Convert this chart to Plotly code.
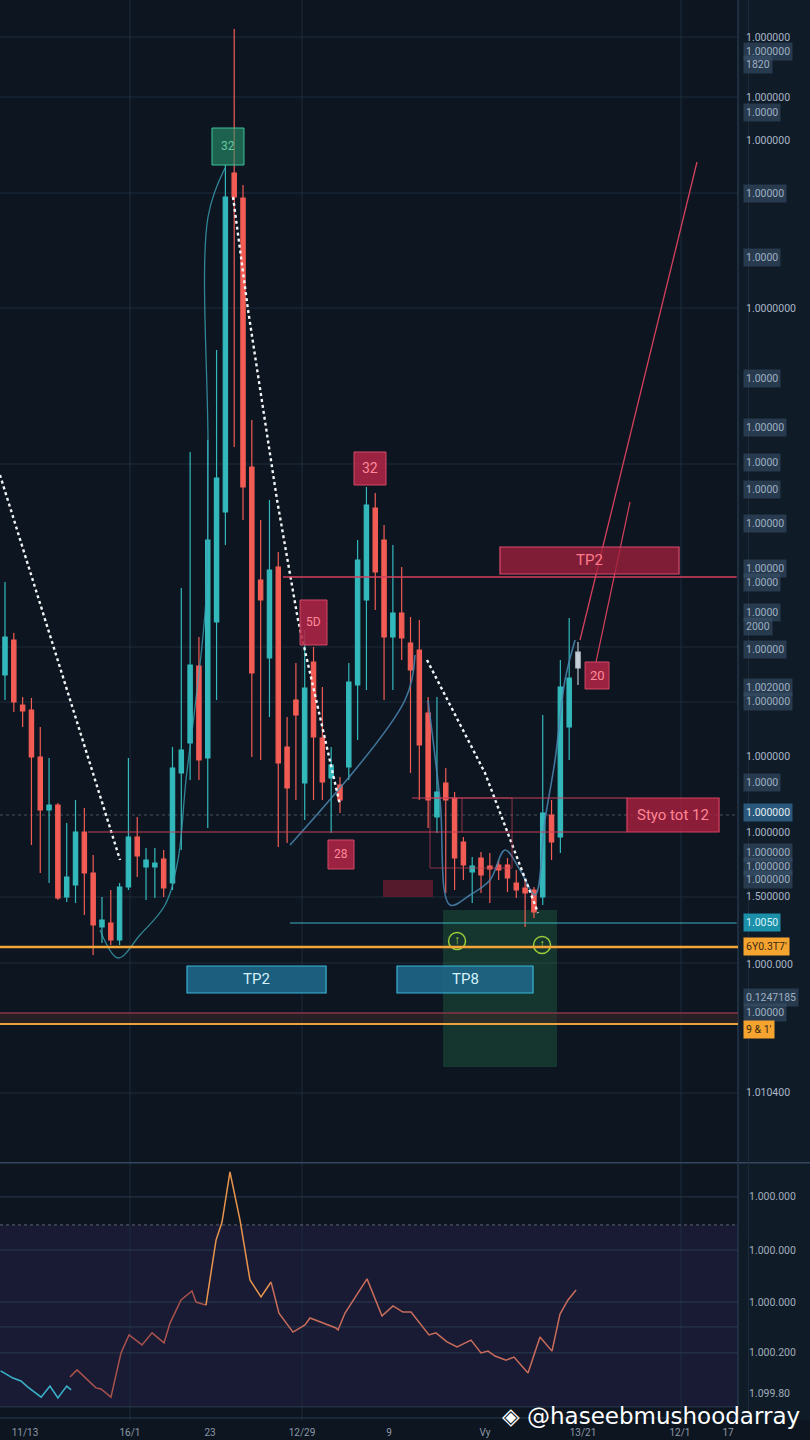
import plotly.graph_objects as go

# ---------------- candle data (x = bar index) ----------------
bar_index = list(range(65))
opens = [1.0272, 1.0307, 1.0242, 1.0237, 1.0190, 1.0137, 1.0142, 1.0050, 1.0062, 1.0115,
         1.0074, 1.0020, 1.0024, 1.0007, 1.0060, 1.0110, 1.0080, 1.0080, 1.0088, 1.0064,
         1.0174, 1.0204, 1.0281, 1.0189, 1.0325, 1.0435, 1.0774, 1.0749, 1.0480, 1.0367,
         1.0289, 1.0380, 1.0200, 1.0247, 1.0164, 1.0285, 1.0209, 1.0169, 1.0162, 1.0180,
         1.0262, 1.0347, 1.0439, 1.0407, 1.0310, 1.0334, 1.0304, 1.0297, 1.0234, 1.0130,
         1.0164, 1.0149, 1.0105, 1.0075, 1.0089, 1.0081, 1.0082, 1.0082, 1.0064, 1.0059,
         1.0057, 1.0050, 1.0132, 1.0110, 1.0220]
highs = [1.0365, 1.0314, 1.0250, 1.0249, 1.0220, 1.0189, 1.0144, 1.0124, 1.0147, 1.0139,
         1.0092, 1.0050, 1.0057, 1.0064, 1.0189, 1.0130, 1.0099, 1.0099, 1.0097, 1.0200,
         1.0359, 1.0495, 1.0310, 1.0507, 1.0597, 1.0782, 1.0918, 1.0762, 1.0527, 1.0427,
         1.0447, 1.0395, 1.0230, 1.0284, 1.0317, 1.0300, 1.0260, 1.0200, 1.0170, 1.0284,
         1.0407, 1.0460, 1.0454, 1.0422, 1.0402, 1.0380, 1.0330, 1.0327, 1.0250, 1.0250,
         1.0179, 1.0155, 1.0110, 1.0090, 1.0095, 1.0094, 1.0087, 1.0089, 1.0077, 1.0067,
         1.0060, 1.0232, 1.0147, 1.0287, 1.0329]
lows = [1.0247, 1.0235, 1.0220, 1.0102, 1.0074, 1.0064, 1.0047, 1.0045, 1.0044, 1.0032,
        0.9992, 1.0004, 1.0002, 1.0002, 1.0057, 1.0070, 1.0047, 1.0049, 1.0050, 1.0057,
        1.0097, 1.0167, 1.0167, 1.0119, 1.0247, 1.0402, 1.0500, 1.0427, 1.0190, 1.0187,
        1.0230, 1.0100, 1.0104, 1.0147, 1.0127, 1.0147, 1.0147, 1.0114, 1.0134, 1.0167,
        1.0207, 1.0257, 1.0337, 1.0247, 1.0257, 1.0287, 1.0174, 1.0147, 1.0119, 1.0114,
        1.0054, 1.0057, 1.0067, 1.0044, 1.0054, 1.0044, 1.0067, 1.0055, 1.0049, 1.0020,
        1.0029, 1.0042, 1.0087, 1.0094, 1.0187]
closes = [1.0310, 1.0245, 1.0236, 1.0190, 1.0137, 1.0142, 1.0049, 1.0070, 1.0115, 1.0074,
          1.0022, 1.0027, 1.0007, 1.0060, 1.0110, 1.0091, 1.0087, 1.0084, 1.0059, 1.0179,
          1.0197, 1.0282, 1.0187, 1.0407, 1.0469, 1.0750, 1.0750, 1.0460, 1.0274, 1.0347,
          1.0377, 1.0184, 1.0159, 1.0232, 1.0259, 1.0210, 1.0165, 1.0182, 1.0147, 1.0265,
          1.0387, 1.0442, 1.0375, 1.0310, 1.0334, 1.0309, 1.0277, 1.0202, 1.0147, 1.0155,
          1.0147, 1.0089, 1.0082, 1.0081, 1.0072, 1.0078, 1.0077, 1.0069, 1.0057, 1.0054,
          1.0035, 1.0134, 1.0105, 1.0260, 1.0269]

# last (neutral / grey) candle
last_index = [65]
last_open = [1.0279]
last_high = [1.0305]
last_low = [1.0262]
last_close = [1.0295]

# ---------------- trend / average lines ----------------
trend1_x = [-0.57, 13.05]
trend1_y = [1.0472, 1.0087]
trend2_x = [25.87, 27.57, 30.86, 33.24, 38.00]
trend2_y = [1.0750, 1.0637, 1.0447, 1.0327, 1.0142]
trend3_x = [47.87, 54.45, 60.47]
trend3_y = [1.0287, 1.0174, 1.0034]

avg1_x = [10.78, 12.82, 15.31, 18.15, 19.62, 20.53, 21.65, 22.79, 23.03, 23.03, 24.96]
avg1_y = [1.0017, 0.9989, 1.0012, 1.0042, 1.0087, 1.0167, 1.0247, 1.0347, 1.0497, 1.0730, 1.0779]
avg2_x = [32.33, 45.38, 46.51]
avg2_y = [1.0102, 1.0247, 1.0292]
avg3_x = [47.99, 49.35, 50.49, 52.76, 55.02, 56.72, 58.43, 60.13, 61.26, 62.40, 63.53, 64.67]
avg3_y = [1.0247, 1.0147, 1.0042, 1.0052, 1.0067, 1.0097, 1.0077, 1.0052, 1.0127, 1.0187, 1.0267, 1.0307]

signal_x = [51.28, 60.92]
signal_y = [1.0006, 1.0002]

# ---------------- oscillator (lower pane) ----------------
osc_teal_x = [-0.5, 0.9, 1.8, 2.6, 4.1, 5.1, 6.0, 7.0, 7.5]
osc_teal_y = [19.1, 16.3, 15.2, 12.8, 8.9, 13.2, 8.6, 13.2, 11.7]
osc_x = [7.37, 8.17, 10.32, 10.89, 12.02, 13.16, 14.07, 15.54, 16.68, 18.04,
         18.72, 19.97, 21.21, 21.67, 22.80, 23.94, 24.62, 25.52, 26.66, 27.79,
         29.04, 30.18, 31.08, 32.67, 34.03, 34.60, 37.55, 37.78, 38.57, 41.07,
         42.77, 44.02, 45.15, 46.06, 48.10, 48.89, 50.14, 51.28, 52.86, 54.00,
         54.79, 55.59, 56.83, 57.74, 59.33, 60.69, 62.05, 62.96, 63.87, 64.78]
osc_y = [16.7, 19.5, 12.5, 12.1, 8.9, 26.1, 33.1, 29.2, 33.9, 30.0,
         37.7, 46.7, 50.2, 45.9, 44.7, 70.0, 77.0, 96.5, 77.8, 54.5,
         47.9, 53.7, 41.6, 34.2, 37.0, 39.7, 35.8, 35.0, 41.6, 54.9,
         40.5, 44.4, 42.0, 42.0, 33.1, 33.9, 30.4, 28.4, 31.1, 26.1,
         26.8, 24.9, 23.3, 24.5, 18.3, 32.3, 26.8, 41.2, 46.7, 50.6]

# ---------------- axis labels ----------------
price_label_y = [1.0910, 1.0896, 1.0883, 1.0850, 1.0835, 1.0807, 1.0754, 1.0690, 1.0639, 1.0569,
                 1.0519, 1.0484, 1.0457, 1.0423, 1.0378, 1.0364, 1.0334, 1.0320, 1.0297, 1.0259,
                 1.0245, 1.0190, 1.0164, 1.0134, 1.0114, 1.0094, 1.0080, 1.0067, 1.0050, 1.0024,
                 1.0000, 0.9982, 0.9949, 0.9934, 0.9917, 0.9854]
price_label_text = ["1.000000", "1.000000", "1820", "1.000000", "1.0000", "1.000000", "1.00000", "1.0000",
                    "1.0000000", "1.0000", "1.00000", "1.0000", "1.0000", "1.00000", "1.00000", "1.0000",
                    "1.0000", "2000", "1.00000", "1.002000", "1.000000", "1.000000", "1.0000", "1.000000",
                    "1.000000", "1.000000", "1.000000", "1.000000", "1.500000", "1.0050", "6Y0.3T7'",
                    "1.000.000", "0.1247185", "1.00000", "9 & 1'", "1.010400"]
price_label_kind = ["plain", "box", "box", "plain", "box", "plain", "box", "box", "plain", "box",
                    "box", "box", "box", "box", "box", "box", "box", "box", "box", "box",
                    "box", "plain", "box", "blue", "plain", "box", "box", "box", "plain", "teal",
                    "orange", "plain", "box", "box", "orange", "plain"]

osc_label_y = [86.8, 66.1, 45.9, 26.1, 10.5]
osc_label_text = ["1.000.000", "1.000.000", "1.000.000", "1.000.200", "1.099.80"]

date_tick_x = [2.27, 14.18, 23.26, 33.69, 43.56, 54.45, 65.57, 76.57, 82.02]
date_tick_text = ["11/13", "16/1", "23", "12/29", "9", "Vy", "13/21", "12/1", "17"]

grid_prices = [1.0910, 1.0850, 1.0754, 1.0639, 1.0483, 1.0300, 1.0245, 1.0050, 0.9984, 0.9854]
grid_x = [14.18, 33.69, 76.69]
osc_grid = [86.8, 66.1, 45.9, 36.2, 26.1, 5.1, 0.8]

# ---------------- styling ----------------
BG = "#0c1520"
TEAL = "#33b9bb"
RED = "#f25c54"
GRID = "#1f2d3c"
XD = [0, 0.9111]
MAIN_DOM = [0.1817, 1.0]
OSC_DOM = [0.0, 0.1810]

fig = go.Figure()

fig.add_trace(go.Candlestick(
    x=bar_index, open=opens, high=highs, low=lows, close=closes,
    increasing=dict(line=dict(color=TEAL, width=1.2), fillcolor=TEAL),
    decreasing=dict(line=dict(color=RED, width=1.2), fillcolor=RED),
    whiskerwidth=0, showlegend=False, hoverinfo="skip"))
fig.add_trace(go.Candlestick(
    x=last_index, open=last_open, high=last_high, low=last_low, close=last_close,
    increasing=dict(line=dict(color="#b9c3cc", width=1.2), fillcolor="#c7d0d8"),
    decreasing=dict(line=dict(color="#b9c3cc", width=1.2), fillcolor="#c7d0d8"),
    whiskerwidth=0, showlegend=False, hoverinfo="skip"))

fig.add_trace(go.Scatter(x=avg1_x, y=avg1_y, mode="lines", line=dict(color="#3aa3b4", width=1.3, shape="spline"),
                         opacity=0.8, showlegend=False, hoverinfo="skip"))
for xs, ys in [(avg2_x, avg2_y), (avg3_x, avg3_y)]:
    fig.add_trace(go.Scatter(x=xs, y=ys, mode="lines", line=dict(color="#4b86b0", width=1.6, shape="spline"),
                             opacity=0.85, showlegend=False, hoverinfo="skip"))
for xs, ys in [(trend1_x, trend1_y), (trend2_x, trend2_y), (trend3_x, trend3_y)]:
    fig.add_trace(go.Scatter(x=xs, y=ys, mode="lines", line=dict(color="#f2f4f6", width=2.4, dash="dot"),
                             showlegend=False, hoverinfo="skip"))

fig.add_trace(go.Scatter(x=signal_x, y=signal_y, mode="markers+text", text=["↑", "↑"],
                         textfont=dict(color="#a6d63a", size=12), textposition="middle center",
                         marker=dict(symbol="circle-open", size=17, color="#9ccc3a", line=dict(width=1.5)),
                         showlegend=False, hoverinfo="skip"))

# oscillator
fig.add_trace(go.Scatter(x=osc_teal_x, y=osc_teal_y, xaxis="x2", yaxis="y2", mode="lines",
                         line=dict(color="#3ab3c9", width=1.6), showlegend=False, hoverinfo="skip"))
seg_bounds = [(0, 15, "#a8524c"), (14, 22, "#e8944c"), (21, 50, "#c96d5b")]
for a, b, col in seg_bounds:
    fig.add_trace(go.Scatter(x=osc_x[a:b], y=osc_y[a:b], xaxis="x2", yaxis="y2", mode="lines",
                             line=dict(color=col, width=1.5), showlegend=False, hoverinfo="skip"))

shapes = []
annotations = []

def rect(x0, x1, y0, y1, fill, line="rgba(0,0,0,0)", lw=1, xref="x", yref="y", layer="above"):
    shapes.append(dict(type="rect", xref=xref, yref=yref, x0=x0, x1=x1, y0=y0, y1=y1,
                       fillcolor=fill, line=dict(color=line, width=lw), layer=layer))

def seg(x0, x1, y0, y1, color, w=1, dash="solid", xref="x", yref="y", layer="above"):
    shapes.append(dict(type="line", xref=xref, yref=yref, x0=x0, x1=x1, y0=y0, y1=y1,
                       line=dict(color=color, width=w, dash=dash), layer=layer))

def label(x, y, text, color, size, xref="x", yref="y", **kw):
    annotations.append(dict(x=x, y=y, xref=xref, yref=yref, text=text, showarrow=False,
                            font=dict(color=color, size=size, family="Roboto"), **kw))

# panel backgrounds
rect(XD[1], 1, 0, 1, "rgba(22,36,52,0.45)", xref="paper", yref="paper", layer="below")
rect(XD[0], XD[1], 5.1, 75.9, "rgba(52,40,92,0.35)", xref="paper", yref="y2", layer="below")

# grid
for p in grid_prices:
    seg(XD[0], XD[1], p, p, GRID, 1, xref="paper", layer="below")
for gx in grid_x:
    seg(gx, gx, MAIN_DOM[0], MAIN_DOM[1], GRID, 1, yref="paper", layer="below")
    seg(gx, gx, OSC_DOM[0], OSC_DOM[1], GRID, 1, yref="paper", layer="below")
for v in osc_grid:
    seg(XD[0], XD[1], v, v, "#2a3a4e", 1, xref="paper", yref="y2", layer="below")
seg(XD[0], XD[1], 75.9, 75.9, "#5a6476", 1, dash="dot", xref="paper", yref="y2", layer="below")
seg(XD[0], 1, MAIN_DOM[0] - 0.0005, MAIN_DOM[0] - 0.0005, "#34475c", 1.5, xref="paper", yref="paper")
seg(XD[1], XD[1], 0, 1, "#24374a", 1.5, xref="paper", yref="paper")
seg(XD[1] + 0.013, XD[1] + 0.013, 0, 1, "#1c2c3c", 1, xref="paper", yref="paper")
seg(XD[0], XD[1], 1.0132, 1.0132, "rgba(190,200,210,0.35)", 1, dash="dot", xref="paper", layer="below")

# horizontal levels
rect(XD[0], XD[1], 0.9923, 0.9934, "rgba(60,40,40,0.55)", xref="paper")
seg(XD[0], XD[1], 0.9934, 0.9934, "#8a3448", 1.5, xref="paper")
seg(XD[0], XD[1], 0.9923, 0.9923, "#eba23e", 2.2, xref="paper")
seg(XD[0], XD[1], 1.0000, 1.0000, "#f2a63a", 2.4, xref="paper")
seg(32.33, 83.0, 1.0024, 1.0024, "#3cb4bf", 1.2)
seg(31.54, 83.0, 1.0370, 1.0370, "#d6415c", 1.3)
seg(46.17, 70.56, 1.0149, 1.0149, "#c8405a", 1.2)
seg(9.42, 70.56, 1.0115, 1.0115, "#c8405a", 1.2)
rect(48.21, 57.52, 1.0079, 1.0149, "rgba(0,0,0,0)", "rgba(200,64,90,0.7)", 1)
seg(51.84, 51.84, 1.0115, 1.0149, "rgba(200,64,90,0.7)", 1)
rect(42.88, 48.55, 1.0050, 1.0067, "rgba(110,28,48,0.75)")

# target zone (green)
rect(49.69, 62.62, 0.9880, 1.0037, "rgba(46,140,82,0.28)", layer="below")

# diagonal projection lines
seg(65.23, 78.50, 1.0307, 1.0785, "#d6405c", 1.3)
seg(67.05, 70.90, 1.0285, 1.0445, "#d6405c", 1.2)

# top green tag
rect(23.48, 27.11, 1.0782, 1.0819, "rgba(42,150,112,0.6)", "#3fc49a", 1)
label(25.3, 1.0801, "32", "#66c7a0", 12)

# red tags
for (x0, x1, y0, y1, t, fs) in [(39.59, 43.22, 1.0462, 1.0495, "32", 14),
                                (33.47, 36.53, 1.0302, 1.0347, "5D", 12),
                                (36.64, 39.59, 1.0078, 1.0107, "28", 12),
                                (65.80, 68.52, 1.0258, 1.0285, "20", 13)]:
    rect(x0, x1, y0, y1, "rgba(176,36,70,0.88)", "#d24a66", 1)
    label((x0 + x1) / 2, (y0 + y1) / 2, t, "#ff8a9a", fs)

rect(56.15, 76.46, 1.0373, 1.0400, "rgba(160,32,62,0.78)", "#e04a6c", 1.2)
label(66.3, 1.03865, "TP2", "#ff7a8c", 15)
rect(70.56, 81.00, 1.0115, 1.0149, "rgba(168,32,62,0.82)", "#d8405f", 1.2)
label(75.78, 1.0132, "Styo tot 12", "#ff8596", 15)

# blue TP boxes
for (x0, x1, t) in [(20.65, 36.42, "TP2"), (44.47, 59.90, "TP8")]:
    rect(x0, x1, 0.9954, 0.9981, "rgba(30,102,136,0.9)", "#3ab6d8", 1.2)
    label((x0 + x1) / 2, 0.99675, t, "#d4f0fa", 15)

# right price scale labels
styles = {
    "plain": dict(bg="rgba(0,0,0,0)", fc="#a8b6c6"),
    "box": dict(bg="rgba(58,84,110,0.55)", fc="#9fb0c2"),
    "blue": dict(bg="rgba(44,92,128,0.95)", fc="#e2ecf4"),
    "teal": dict(bg="rgba(30,150,176,0.95)", fc="#d8f4fa"),
    "orange": dict(bg="rgba(246,164,48,1)", fc="#3a2a10"),
}
for py, pt, pk in zip(price_label_y, price_label_text, price_label_kind):
    st = styles[pk]
    annotations.append(dict(x=0.917, y=py, xref="paper", yref="y", text=pt, showarrow=False,
                            xanchor="left", yanchor="middle", bgcolor=st["bg"], borderpad=2,
                            font=dict(color=st["fc"], size=10.5, family="Roboto")))
for oy, ot in zip(osc_label_y, osc_label_text):
    annotations.append(dict(x=0.922, y=oy, xref="paper", yref="y2", text=ot, showarrow=False,
                            xanchor="left", yanchor="middle",
                            font=dict(color="#a0adbb", size=10.5, family="Roboto")))

# watermark
annotations.append(dict(x=0.99, y=0.0025, xref="paper", yref="paper", text="◈ @haseebmushoodarray",
                        showarrow=False, xanchor="right", yanchor="middle",
                        font=dict(color="#ffffff", size=23, family="DejaVu Sans")))

fig.update_layout(
    width=810, height=1440,
    margin=dict(l=0, r=0, t=0, b=20),
    paper_bgcolor=BG, plot_bgcolor=BG,
    showlegend=False,
    shapes=shapes, annotations=annotations,
    xaxis=dict(domain=XD, range=[-0.567, 83.15], anchor="y", showgrid=False, zeroline=False,
               showticklabels=False, rangeslider=dict(visible=False), fixedrange=True),
    yaxis=dict(domain=MAIN_DOM, range=[0.9785, 1.0947], showgrid=False, zeroline=False,
               showticklabels=False, fixedrange=True),
    xaxis2=dict(domain=XD, range=[-0.567, 83.15], anchor="y2", matches="x", showgrid=False,
                zeroline=False, tickmode="array", tickvals=date_tick_x, ticktext=date_tick_text,
                tickfont=dict(color="#8c99a8", size=10, family="Roboto"), ticks="",
                ticklabelstandoff=5),
    yaxis2=dict(domain=OSC_DOM, range=[0, 100], showgrid=False, zeroline=False,
                showticklabels=False, fixedrange=True),
)

fig.write_html("out.html", config={"displayModeBar": False},
               post_script="document.body.style.margin='0';document.body.style.overflow='hidden';"
                           "document.body.style.background='#0c1520';")
